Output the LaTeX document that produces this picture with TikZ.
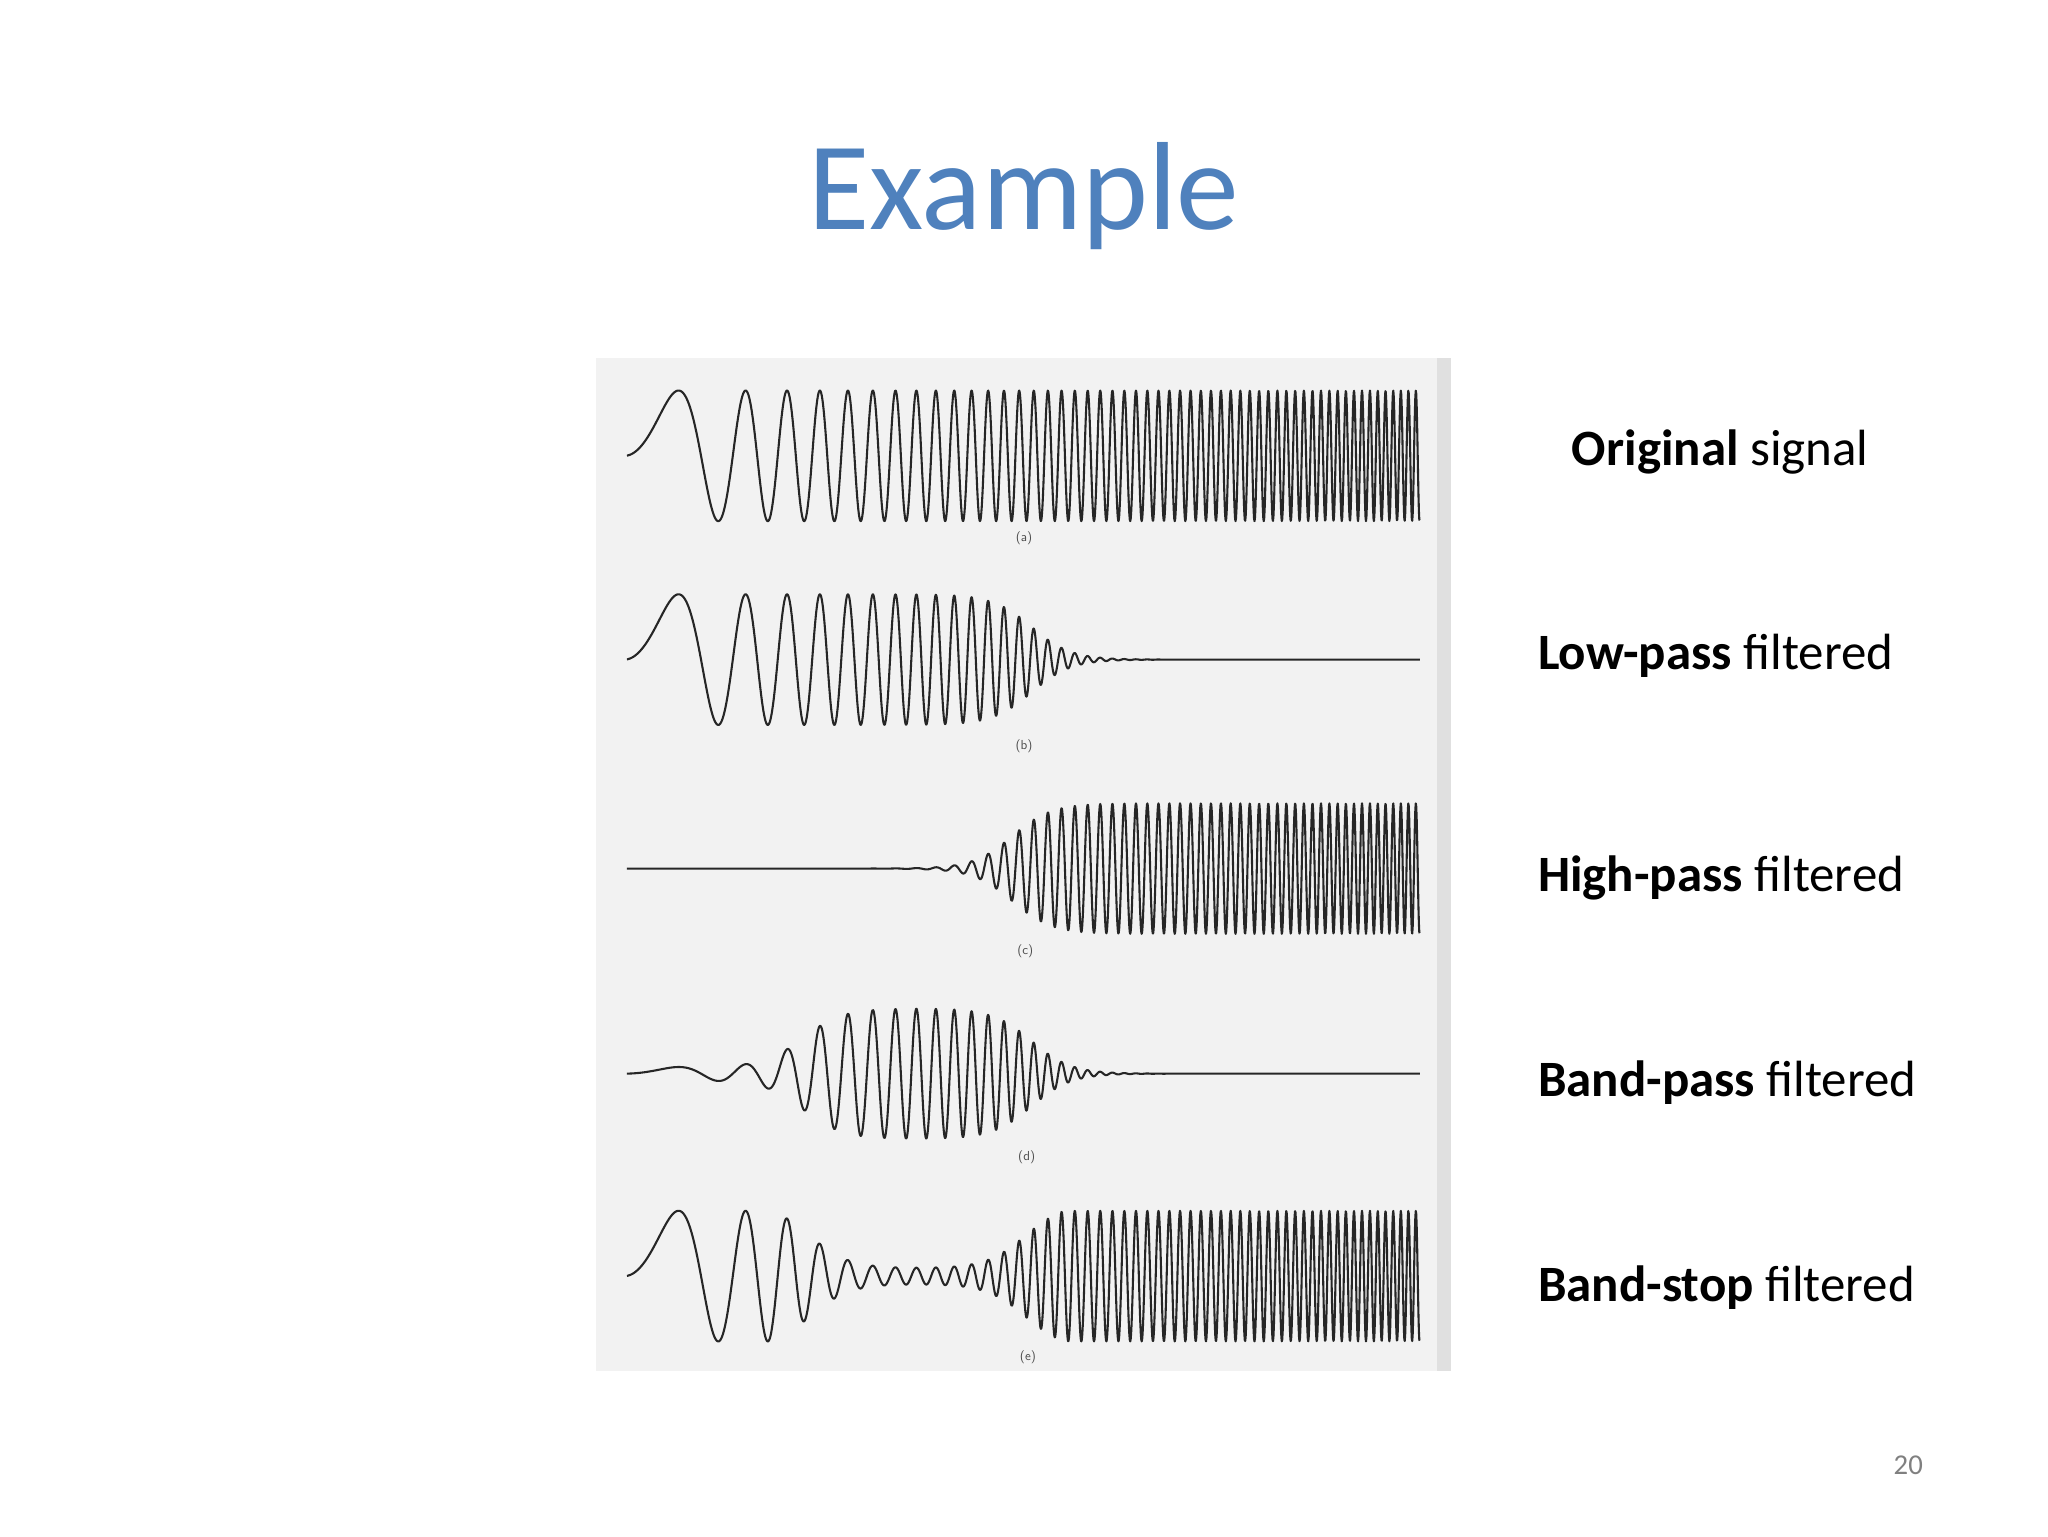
\documentclass[tikz,border=0pt]{standalone}
\usepackage{fontspec}
\setmainfont{Carlito}
\definecolor{ttl}{RGB}{79,129,189}
\begin{document}
\begin{tikzpicture}[x=1pt,y=-1pt,
  wave/.style={line width=1.6pt,black!85,line join=round},
  lab/.style={font=\fontsize{39}{46}\selectfont,anchor=west},
  sub/.style={font=\sffamily\fontsize{10}{12}\selectfont,black!70}]
\useasboundingbox (0,0) rectangle (1568,1176);
\fill[white] (0,0) rectangle (1568,1176);
\node (title) [font=\fontsize{96}{110}\selectfont,text=ttl] at (784,150) {Example};
\fill[black!5] (456,274) rectangle (1111,1050);
\fill[black!12] (1100,274) rectangle (1111,1050);
\def\ph#1{360*mod(1.45*((#1-478)/100)^2,1)}
\def\sg#1#2{1/(1+exp(min(9,max(-9,(#1-#2)/15))))}
% (a)
\draw[wave] plot[domain=480:1087,samples=1800] (\x,{349-50*sin(\ph{\x})});
% (b) low-pass
\draw[wave] plot[domain=480:1087,samples=1800] (\x,{505-50*(\sg{\x}{790})*sin(\ph{\x})});
% (c) high-pass
\draw[wave] plot[domain=480:1087,samples=1800] (\x,{665-50*(1-\sg{\x}{775})*sin(\ph{\x})});
% (d) band-pass
\draw[wave] plot[domain=480:1087,samples=1800] (\x,{822-50*(0.1+0.9*(1-\sg{\x}{615}))*(\sg{\x}{790})*sin(\ph{\x})});
% (e) band-stop
\draw[wave] plot[domain=480:1087,samples=1800] (\x,{977-50*min(1,0.12+\sg{\x}{620}+(1-\sg{\x}{785}))*sin(\ph{\x})});
\node (la) [sub] at (784,412) {(a)};
\node (lb) [sub] at (784,571) {(b)};
\node (lc) [sub] at (785,728) {(c)};
\node (ld) [sub] at (786,886) {(d)};
\node (le) [sub] at (787,1039) {(e)};
\node (t1) [lab] at (1200,346) {\textbf{Original} signal};
\node (t2) [lab] at (1174,502) {\textbf{Low-pass} filtered};
\node (t3) [lab] at (1174,672) {\textbf{High-pass} filtered};
\node (t4) [lab] at (1174,829) {\textbf{Band-pass} filtered};
\node (t5) [lab] at (1174,986) {\textbf{Band-stop} filtered};
\node (pg) [font=\fontsize{22}{26}\selectfont,text=black!50] at (1461,1122) {20};
\end{tikzpicture}
\end{document}
